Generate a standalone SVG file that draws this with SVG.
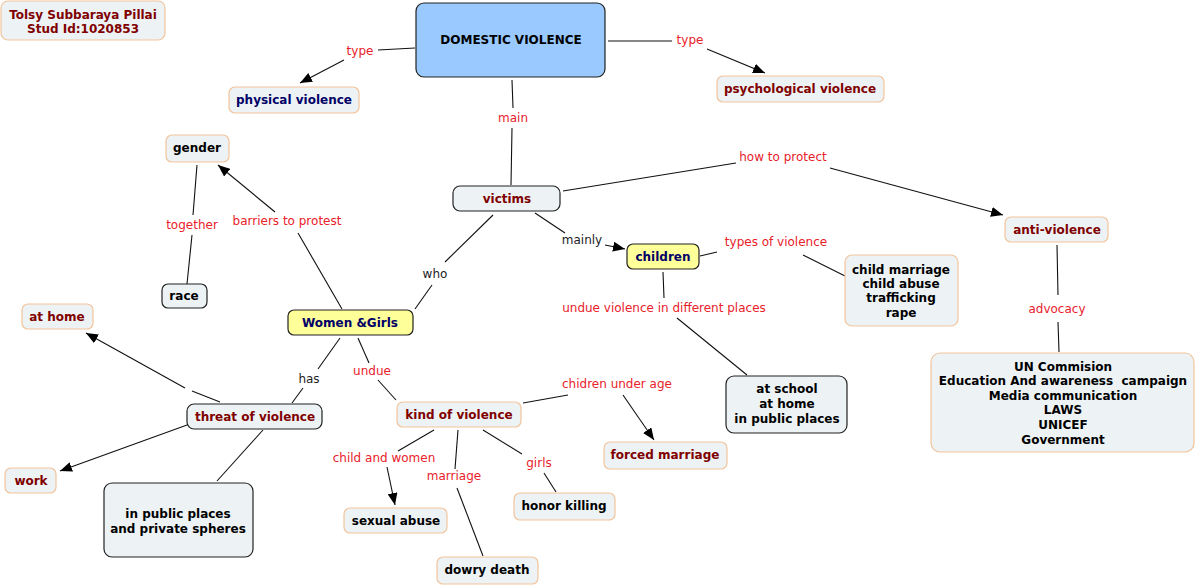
<svg xmlns="http://www.w3.org/2000/svg" width="1197" height="587" viewBox="0 0 1197 587">
<style>
.n{fill:#edf3f5;stroke:#f2c49c;stroke-width:1.2}
.d{fill:#edf3f5;stroke:#222;stroke-width:1.2}
.y{fill:#ffff99;stroke:#222;stroke-width:1.2}
.t{font-family:"DejaVu Sans",Verdana,sans-serif;font-weight:bold;font-size:12px;text-anchor:middle;white-space:pre}
.r{fill:#800000}.b{fill:#000}.v{fill:#000066}
.l{font-family:"DejaVu Sans",Verdana,sans-serif;font-size:12px;text-anchor:middle;fill:#e8212a}
.k{fill:#222}
.c line{stroke:#111;stroke-width:1.1}
</style>
<defs>
<marker id="a" viewBox="0 0 12 10" refX="12" refY="5" markerWidth="12" markerHeight="10" markerUnits="userSpaceOnUse" orient="auto"><path d="M0,0L12,5L0,10z" fill="#000"/></marker>
</defs>
<rect width="1197" height="587" fill="#fff"/>
<g class="c">
<line x1="415" y1="48" x2="378" y2="50"/>
<line x1="344" y1="60" x2="300" y2="83" marker-end="url(#a)"/>
<line x1="608" y1="41" x2="672" y2="41"/>
<line x1="707" y1="49" x2="765" y2="73" marker-end="url(#a)"/>
<line x1="512" y1="80" x2="513" y2="108"/>
<line x1="512" y1="128" x2="511" y2="185"/>
<line x1="563" y1="191" x2="736" y2="163"/>
<line x1="830" y1="168" x2="1003" y2="215" marker-end="url(#a)"/>
<line x1="535" y1="213" x2="565" y2="233"/>
<line x1="605" y1="245" x2="625" y2="249" marker-end="url(#a)"/>
<line x1="493" y1="215" x2="445" y2="262"/>
<line x1="432" y1="285" x2="415" y2="309"/>
<line x1="342" y1="309" x2="298" y2="233"/>
<line x1="275" y1="212" x2="218" y2="165" marker-end="url(#a)"/>
<line x1="197" y1="165" x2="193" y2="215"/>
<line x1="192" y1="235" x2="187" y2="284"/>
<line x1="340" y1="338" x2="318" y2="369"/>
<line x1="303" y1="388" x2="292" y2="403"/>
<line x1="358" y1="338" x2="369" y2="363"/>
<line x1="378" y1="380" x2="396" y2="400"/>
<line x1="220" y1="402" x2="192" y2="391"/>
<line x1="185" y1="388" x2="86" y2="333" marker-end="url(#a)"/>
<line x1="187" y1="425" x2="60" y2="471" marker-end="url(#a)"/>
<line x1="263" y1="430" x2="217" y2="481"/>
<line x1="523" y1="403" x2="568" y2="395"/>
<line x1="623" y1="395" x2="654" y2="440" marker-end="url(#a)"/>
<line x1="434" y1="430" x2="398" y2="451"/>
<line x1="387" y1="467" x2="395" y2="505" marker-end="url(#a)"/>
<line x1="458" y1="430" x2="455" y2="469"/>
<line x1="457" y1="488" x2="483" y2="556"/>
<line x1="483" y1="430" x2="522" y2="454"/>
<line x1="544" y1="473" x2="556" y2="492"/>
<line x1="700" y1="256" x2="717" y2="252"/>
<line x1="803" y1="255" x2="845" y2="276"/>
<line x1="663" y1="272" x2="664" y2="298"/>
<line x1="677" y1="318" x2="747" y2="375"/>
<line x1="1057" y1="245" x2="1058" y2="295"/>
<line x1="1058" y1="322" x2="1059" y2="352"/>
</g>
<g id="labels">
<text class="l" x="360" y="55">type</text>
<text class="l" x="690" y="44">type</text>
<text class="l" x="513" y="122">main</text>
<text class="l" x="783" y="161">how to protect</text>
<text class="l k" x="582" y="244">mainly</text>
<text class="l k" x="435" y="278">who</text>
<text class="l" x="287" y="225">barriers to protest</text>
<text class="l" x="192" y="229">together</text>
<text class="l k" x="309" y="383">has</text>
<text class="l" x="372" y="375">undue</text>
<text class="l" x="617" y="388">chidren under age</text>
<text class="l" x="384" y="462">child and women</text>
<text class="l" x="454" y="480">marriage</text>
<text class="l" x="539" y="467">girls</text>
<text class="l" x="776" y="246">types of violence</text>
<text class="l" x="664" y="312">undue violence in different places</text>
<text class="l" x="1057" y="313">advocacy</text>
</g>
<g id="author"><rect class="n" x="1" y="1" width="164" height="39" rx="7"/><text class="t r" x="83" y="19">Tolsy Subbaraya Pillai</text><text class="t r" x="83" y="33">Stud Id:1020853</text></g>
<g id="dv"><rect x="416" y="3" width="189" height="74" rx="8" fill="#99c9ff" stroke="#222" stroke-width="1.2"/><text class="t b" x="511" y="44">DOMESTIC VIOLENCE</text></g>
<g id="physical"><rect class="n" x="229" y="87" width="130" height="26" rx="6"/><text class="t v" x="294" y="104">physical violence</text></g>
<g id="psych"><rect class="n" x="717" y="76" width="167" height="26" rx="6"/><text class="t r" x="800" y="93">psychological violence</text></g>
<g id="gender"><rect class="n" x="166" y="135" width="63" height="27" rx="6"/><text class="t b" x="197" y="152">gender</text></g>
<g id="race"><rect class="d" x="162" y="284" width="45" height="24" rx="6"/><text class="t b" x="184" y="300">race</text></g>
<g id="victims"><rect class="d" x="453" y="186" width="107" height="25" rx="7"/><text class="t r" x="507" y="203">victims</text></g>
<g id="women"><rect class="y" x="288" y="310" width="125" height="25" rx="6"/><text class="t v" x="350" y="327">Women &amp;Girls</text></g>
<g id="children"><rect class="y" x="627" y="244" width="72" height="25" rx="6"/><text class="t v" x="663" y="261">children</text></g>
<g id="childtypes"><rect class="n" x="845" y="255" width="113" height="71" rx="7"/><text class="t b" x="901" y="274">child marriage</text><text class="t b" x="901" y="288">child abuse</text><text class="t b" x="901" y="302">trafficking</text><text class="t b" x="901" y="317">rape</text></g>
<g id="antiviolence"><rect class="n" x="1005" y="217" width="103" height="25" rx="6"/><text class="t r" x="1057" y="234">anti-violence</text></g>
<g id="advocacybox"><rect class="n" x="931" y="353" width="263" height="99" rx="9"/><text class="t b" x="1063" y="371">UN Commision</text><text class="t b" x="1063" y="385" xml:space="preserve">Education And awareness  campaign</text><text class="t b" x="1063" y="400">Media communication</text><text class="t b" x="1063" y="414">LAWS</text><text class="t b" x="1063" y="429">UNICEF</text><text class="t b" x="1063" y="444">Government</text></g>
<g id="athome"><rect class="n" x="22" y="304" width="71" height="25" rx="6"/><text class="t r" x="57" y="321">at home</text></g>
<g id="threat"><rect class="d" x="187" y="404" width="135" height="25" rx="7"/><text class="t r" x="255" y="421">threat of violence</text></g>
<g id="work"><rect class="n" x="5" y="468" width="51" height="25" rx="6"/><text class="t r" x="31" y="485">work</text></g>
<g id="spheres"><rect class="d" x="104" y="483" width="149" height="74" rx="8"/><text class="t b" x="178" y="518">in public places</text><text class="t b" x="178" y="533">and private spheres</text></g>
<g id="kind"><rect class="n" x="397" y="402" width="124" height="25" rx="6"/><text class="t r" x="459" y="419">kind of violence</text></g>
<g id="forced"><rect class="n" x="604" y="442" width="123" height="27" rx="6"/><text class="t r" x="665" y="459">forced marriage</text></g>
<g id="sexual"><rect class="n" x="344" y="508" width="103" height="25" rx="6"/><text class="t b" x="396" y="525">sexual abuse</text></g>
<g id="honor"><rect class="n" x="514" y="493" width="101" height="27" rx="6"/><text class="t b" x="564" y="510">honor killing</text></g>
<g id="dowry"><rect class="n" x="437" y="557" width="101" height="27" rx="6"/><text class="t b" x="487" y="574">dowry death</text></g>
<g id="places"><rect class="d" x="726" y="376" width="121" height="57" rx="8"/><text class="t b" x="787" y="393">at school</text><text class="t b" x="787" y="408">at home</text><text class="t b" x="787" y="423">in public places</text></g>
</svg>
